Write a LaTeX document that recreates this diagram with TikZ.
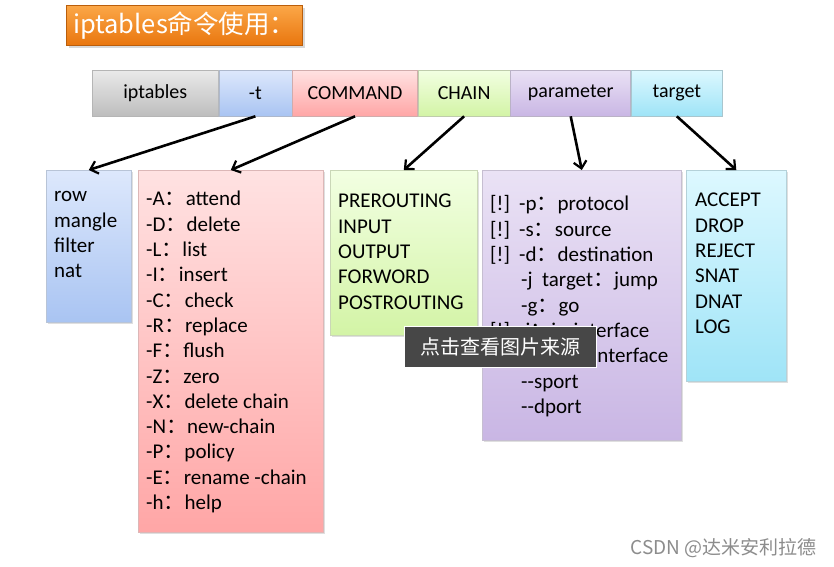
\documentclass[tikz,border=0pt]{standalone}
\usepackage{fontspec}
\setmainfont{Carlito}
\newfontfamily\cjk{Noto Sans CJK SC}
\usetikzlibrary{arrows.meta,positioning,shadows}
\definecolor{IptGrayT}{HTML}{EAEAEA}
\definecolor{IptGrayB}{HTML}{BDBDBD}
\definecolor{IptBlueT}{HTML}{DDE8FC}
\definecolor{IptBlueB}{HTML}{A9C4F2}
\definecolor{IptRedT}{HTML}{FFE2E2}
\definecolor{IptRedB}{HTML}{FFA6A6}
\definecolor{IptGreenT}{HTML}{F2FFE2}
\definecolor{IptGreenB}{HTML}{D3F4A6}
\definecolor{IptPurpleT}{HTML}{EAE2F5}
\definecolor{IptPurpleB}{HTML}{C9B6E4}
\definecolor{IptCyanT}{HTML}{DDF8FF}
\definecolor{IptCyanB}{HTML}{9FE4F7}
\definecolor{IptOrangeT}{HTML}{FBA748}
\definecolor{IptOrangeB}{HTML}{E9760E}
\newcommand{\cl}{{\cjk ：}}
\newcommand{\nt}{\makebox[29pt][l]{[!]}}
\tikzset{
  cell/.style={draw=#1B!70!black!60, top color=#1T, bottom color=#1B, line width=.6pt,
    minimum height=46pt, inner sep=0pt, font=\fontsize{20}{24}\selectfont},
  panel/.style={draw=#1B!75!black!55, top color=#1T, bottom color=#1B, line width=.6pt,
    inner sep=0pt, anchor=north west, drop shadow={opacity=.25,shadow xshift=1.5pt,shadow yshift=-1.5pt}},
  listtext/.style={anchor=north west, inner sep=0pt, align=left, font=\fontsize{21}{25.3}\selectfont},
  pointer/.style={-{Straight Barb[length=7pt,width=13pt,line width=2.2pt]}, line width=2.6pt, black}
}
\begin{document}
\begin{tikzpicture}[x=1pt,y=-1pt]
  \useasboundingbox[fill=white] (0,0) rectangle (834,566);
  % title
  \node[draw=IptOrangeB!80!black, top color=IptOrangeT, bottom color=IptOrangeB, line width=.6pt,
    minimum width=236pt, minimum height=40pt, inner xsep=0pt, anchor=north west, text=white,
    font=\cjk\fontsize{25.5}{30}\selectfont, drop shadow={opacity=.3}] (title) at (66,5) {iptables命令使用：};
  % command line
  \node[cell=IptGray, minimum width=126pt, anchor=west] (ipt) at (92,93) {iptables};
  \node[cell=IptBlue, minimum width=73pt, right=0pt of ipt] (opt) {-t};
  \node[cell=IptRed, minimum width=125pt, right=0pt of opt] (cmd) {COMMAND};
  \node[cell=IptGreen, minimum width=92pt, right=0pt of cmd] (chn) {CHAIN};
  \node[cell=IptPurple, minimum width=120pt, right=0pt of chn] (par) {parameter};
  \node[cell=IptCyan, minimum width=91pt, right=0pt of par] (tgt) {target};
  % lists
  \node[panel=IptBlue, minimum width=85pt, minimum height=152pt] (tabbox) at (46,170) {};
  \node[panel=IptRed, minimum width=185pt, minimum height=362pt] (cmdbox) at (138,170) {};
  \node[panel=IptGreen, minimum width=147pt, minimum height=165pt] (chnbox) at (330,170) {};
  \node[panel=IptPurple, minimum width=199pt, minimum height=270pt] (parbox) at (482,170) {};
  \node[panel=IptCyan, minimum width=100pt, minimum height=211pt] (tgtbox) at (686,170) {};
  \node[listtext] (tablist) at (54,184) {\strut row\\mangle\\filter\\nat};
  \node[listtext] (cmdlist) at (146,188) {\strut -A\cl attend\\-D\cl delete\\-L\cl list\\-I\cl insert\\
    -C\cl check\\-R\cl replace\\-F\cl flush\\-Z\cl zero\\-X\cl delete chain\\-N\cl new-chain\\
    -P\cl policy\\-E\cl rename -chain\\-h\cl help};
  \node[listtext] (chnlist) at (338,190) {\strut PREROUTING\\INPUT\\OUTPUT\\FORWORD\\POSTROUTING};
  \node[listtext] (parlist) at (490,193) {\strut \nt-p\cl protocol\\\nt-s\cl source\\\nt-d\cl destination\\
    \hspace*{31pt}-j\ \ target\cl jump\\\hspace*{31pt}-g\cl go\\\nt-i\cl in-interface\\\nt-o\cl out-interface\\
    \hspace*{31pt}-{}-sport\\\hspace*{31pt}-{}-dport};
  \node[listtext] (tgtlist) at (695,189) {\strut ACCEPT\\DROP\\REJECT\\SNAT\\DNAT\\LOG};
  % pointers
  \draw[pointer] (opt.south) -- (tabbox.north);
  \draw[pointer] (cmd.south) -- (cmdbox.north);
  \draw[pointer] (chn.south) -- (chnbox.north);
  \draw[pointer] (par.south) -- (parbox.north);
  \draw[pointer] (tgt.south) -- (tgtbox.north);
  % overlay and watermark
  \node[draw=white, fill=black!72, line width=.8pt, minimum width=192pt, minimum height=41pt,
    anchor=north west, text=white, font=\cjk\fontsize{20}{24}\selectfont] (tip) at (404,326) {点击查看图片来源};
  \node[anchor=east, text=black!45, font=\cjk\fontsize{19}{22}\selectfont] (mark) at (820,548) {CSDN @达米安利拉德};
\end{tikzpicture}
\end{document}
